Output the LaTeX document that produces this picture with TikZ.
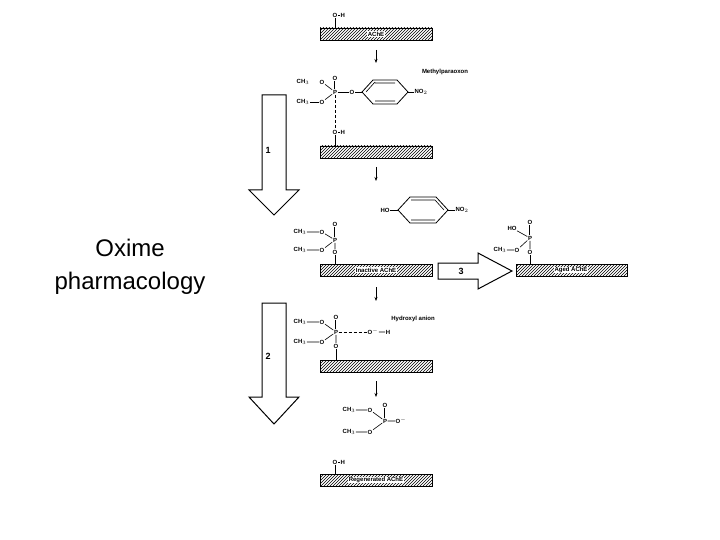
\documentclass[tikz,border=0pt]{standalone}
\usepackage{fontspec}
\setmainfont{Liberation Sans}
\usetikzlibrary{patterns,positioning,arrows.meta}
\begin{document}
\begin{tikzpicture}[x=1pt,y=-1pt,
  t/.style={font=\fontsize{6}{7}\selectfont\bfseries,inner sep=0.5pt},
  bar/.style={draw,line width=0.9pt,pattern=north east lines},
  lab/.style={fill=white,font=\fontsize{6}{7}\selectfont\bfseries,inner sep=0.5pt},
  big/.style={draw,line width=1pt,fill=white},
  sm/.style={-{Stealth[length=4pt]},line width=0.8pt},
  bd/.style={line width=0.6pt}]
\useasboundingbox (0,0) rectangle (720,540);
% title
\node[font=\fontsize{24}{33}\selectfont,align=center] (title) at (130,267) {Oxime\\pharmacology};
% big arrows
\draw[big] (262,95) -- (286,95) -- (286,190) -- (299,190) -- (274,215) -- (249,190) -- (262,190) -- cycle;
\node[font=\bfseries\small] (n1) at (268,150) {1};
\draw[big] (262,303) -- (286,303) -- (286,397) -- (299,397) -- (274,424) -- (249,397) -- (262,397) -- cycle;
\node[font=\bfseries\small] (n2) at (268,356) {2};
\draw[big] (438,263) -- (478,263) -- (478,253) -- (512,271) -- (478,289) -- (478,279) -- (438,279) -- cycle;
\node[font=\bfseries\small] (n3) at (461,271) {3};
% step 0
\node[t] (oh0) at (335,15) {O};
\node[t,right=2pt of oh0] (h0) {H};
\draw[bd] (oh0) -- (h0);
\draw[bar] (320,28) rectangle (432,40);
\node[lab] (a0) at (376,34) {AChE};
\draw[bd] (oh0) -- (335,28);
\draw[sm] (376,50) -- (376,63);
% step 1 methylparaoxon
\node[t] (mlab) at (445,72) {Methylparaoxon};
\node[t] (c1a) at (303,82) {CH$_3$};
\node[t] (o1a) at (322,82) {O};
\node[t] (o1t) at (335,78) {O};
\node[t] (p1) at (335,92) {P};
\node[t] (o1r) at (352,92) {O};
\node[t] (c1b) at (303,102) {CH$_3$};
\node[t] (o1b) at (322,102) {O};
\draw[bd] (c1b) -- (o1b); \draw[bd] (o1b) -- (p1); \draw[bd] (p1) -- (o1r);
\draw[bd,double,double distance=1pt] (o1t) -- (p1);
\draw[bd] (o1a) -- (p1);
\draw[line width=0.8pt] (362,92) -- (373,80) -- (397,80) -- (408,92) -- (397,104) -- (373,104) -- cycle;
\draw[bd] (375,83) -- (395,83) (366,92) -- (375,82) (375,101) -- (395,101);
\draw[bd] (o1r) -- (362,92);
\node[t] (no1) at (421,92) {NO$_2$};
\draw[bd] (408,92) -- (no1);
\node[t] (o1e) at (335,132) {O};
\node[t,right=2pt of o1e] (h1) {H};
\draw[bd] (o1e) -- (h1);
\draw[bd,densely dashed] (p1) -- (o1e);
\draw[bar] (320,146) rectangle (432,158);
\draw[bd] (o1e) -- (335,146);
\draw[sm] (376,167) -- (376,181);
% step 2
\node[t] (ho2) at (385,210) {HO};
\draw[line width=0.8pt] (398,210) -- (410,197) -- (436,197) -- (448,210) -- (436,223) -- (410,223) -- cycle;
\draw[bd] (411,200) -- (435,200) (411,220) -- (435,220) (444,210) -- (435,200);
\draw[bd] (ho2) -- (398,210);
\node[t] (no2) at (462,210) {NO$_2$};
\draw[bd] (448,210) -- (no2);
\node[t] (c2a) at (300,232) {CH$_3$};
\node[t] (o2a) at (322,232) {O};
\node[t] (o2t) at (335,224) {O};
\node[t] (p2) at (335,240) {P};
\node[t] (c2b) at (300,250) {CH$_3$};
\node[t] (o2b) at (322,250) {O};
\node[t] (o2e) at (335,252) {O};
\draw[bd] (c2a) -- (o2a) (c2b) -- (o2b) (o2a) -- (p2) (o2b) -- (p2) (p2) -- (o2e);
\draw[bd,double,double distance=1pt] (o2t) -- (p2);
\draw[bar] (320,264) rectangle (432,276);
\node[lab] (a2) at (376,270) {Inactive AChE};
\draw[bd] (o2e) -- (335,264);
% aged
\node[t] (ho3) at (512,228) {HO};
\node[t] (o3t) at (530,222) {O};
\node[t] (p3) at (530,238) {P};
\node[t] (c3) at (500,250) {CH$_3$};
\node[t] (o3b) at (517,250) {O};
\node[t] (o3e) at (530,252) {O};
\draw[bd] (ho3) -- (p3) (c3) -- (o3b) (o3b) -- (p3) (p3) -- (o3e);
\draw[bd,double,double distance=1pt] (o3t) -- (p3);
\draw[bar] (516,264) rectangle (627,276);
\node[lab] (a3) at (571,270) {Aged AChE};
\draw[bd] (o3e) -- (530,264);
\draw[sm] (376,287) -- (376,301);
% step 3
\node[t] (hyl) at (413,319) {Hydroxyl anion};
\node[t] (c4a) at (300,322) {CH$_3$};
\node[t] (o4a) at (322,322) {O};
\node[t] (o4t) at (336,317) {O};
\node[t] (p4) at (336,332) {P};
\node[t] (o4m) at (373,332) {O$^-$};
\node[t] (h4) at (388,332) {H};
\node[t] (c4b) at (300,342) {CH$_3$};
\node[t] (o4b) at (322,342) {O};
\node[t] (o4e) at (336,346) {O};
\draw[bd] (c4a) -- (o4a) (c4b) -- (o4b) (o4a) -- (p4) (o4b) -- (p4) (p4) -- (o4e) (o4m) -- (h4);
\draw[bd,densely dashed] (p4) -- (o4m);
\draw[bd,double,double distance=1pt] (o4t) -- (p4);
\draw[bar] (320,360) rectangle (432,372);
\draw[bd] (o4e) -- (336,360);
\draw[sm] (376,381) -- (376,397);
% step 4
\node[t] (c5a) at (349,410) {CH$_3$};
\node[t] (o5a) at (370,410) {O};
\node[t] (o5t) at (385,405) {O};
\node[t] (p5) at (385,421) {P};
\node[t] (o5m) at (401,421) {O$^-$};
\node[t] (c5b) at (349,432) {CH$_3$};
\node[t] (o5b) at (370,432) {O};
\draw[bd] (c5a) -- (o5a) (c5b) -- (o5b) (o5a) -- (p5) (o5b) -- (p5) (p5) -- (o5m);
\draw[bd,double,double distance=1pt] (o5t) -- (p5);
\node[t] (oh6) at (335,462) {O};
\node[t,right=2pt of oh6] (h6) {H};
\draw[bd] (oh6) -- (h6);
\draw[bar] (320,474) rectangle (432,486);
\node[lab] (a6) at (376,480) {Regenerated AChE};
\draw[bd] (oh6) -- (335,474);
\end{tikzpicture}
\end{document}
